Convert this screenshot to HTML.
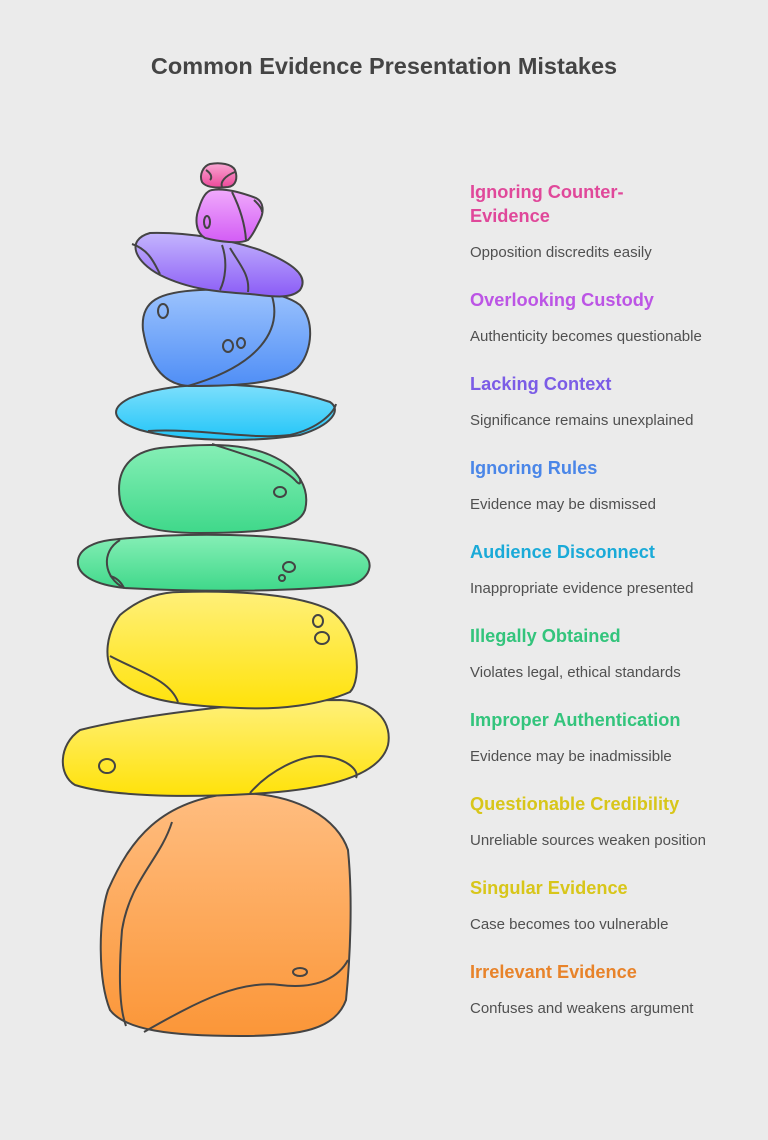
<!DOCTYPE html>
<html><head><meta charset="utf-8"><style>
body{margin:0;background:#ebebeb;}
svg{display:block}
.t{font-family:"Liberation Sans",sans-serif;font-weight:bold;font-size:18.2px}
.d{font-family:"Liberation Sans",sans-serif;font-size:15px;fill:#505050}
</style></head><body>
<svg width="768" height="1140" viewBox="0 0 768 1140" xmlns="http://www.w3.org/2000/svg">
<defs>
<linearGradient id="g1" x1="0" y1="0" x2="0" y2="1"><stop offset="0" stop-color="#f9a8d4"/><stop offset="1" stop-color="#ec4899"/></linearGradient>
<linearGradient id="g2" x1="0" y1="0" x2="0" y2="1"><stop offset="0" stop-color="#f0abfc"/><stop offset="1" stop-color="#d35cf5"/></linearGradient>
<linearGradient id="g3" x1="0" y1="0" x2="0" y2="1"><stop offset="0" stop-color="#c4b5fd"/><stop offset="1" stop-color="#8b5cf6"/></linearGradient>
<linearGradient id="g4" x1="0" y1="0" x2="0" y2="1"><stop offset="0" stop-color="#9cc3fd"/><stop offset="1" stop-color="#4f8ef6"/></linearGradient>
<linearGradient id="g5" x1="0" y1="0" x2="0" y2="1"><stop offset="0" stop-color="#7ddffc"/><stop offset="1" stop-color="#22c5f8"/></linearGradient>
<linearGradient id="g6" x1="0" y1="0" x2="0" y2="1"><stop offset="0" stop-color="#86efb6"/><stop offset="1" stop-color="#3fd88a"/></linearGradient>
<linearGradient id="g8" x1="0" y1="0" x2="0" y2="1"><stop offset="0" stop-color="#fff07a"/><stop offset="1" stop-color="#ffe20a"/></linearGradient>
<linearGradient id="g10" x1="0" y1="0" x2="0" y2="1"><stop offset="0" stop-color="#ffbd80"/><stop offset="1" stop-color="#fb9638"/></linearGradient>
</defs>
<text x="384" y="74" text-anchor="middle" font-family="Liberation Sans,sans-serif" font-weight="bold" font-size="23.5" fill="#444">Common Evidence Presentation Mistakes</text>
<g stroke="#444" stroke-width="2" fill="none">
<path d="M235 793 C300 793 338 820 348 850 C353 900 350 960 346 1000 C335 1030 300 1036 240 1036 C170 1036 125 1030 110 1010 C98 980 98 920 108 890 C130 840 160 800 235 793Z" fill="url(#g10)"/>
<path d="M172 822 C160 860 130 880 122 930 C118 980 120 1010 126 1026"/>
<path d="M144 1032 C200 1000 240 980 280 985 C320 990 340 975 348 960"/>
<ellipse cx="300" cy="972" rx="7" ry="4"/>
<path d="M80 730 C140 715 260 700 340 700 C380 702 392 725 388 745 C380 775 330 790 250 794 C180 798 110 796 75 785 C58 775 58 745 80 730Z" fill="url(#g8)"/>
<path d="M250 793 C270 770 300 756 320 756 C345 757 360 770 356 778"/>
<ellipse cx="107" cy="766" rx="8" ry="7"/>
<path d="M180 592 C240 590 300 595 330 610 C360 630 362 680 350 692 C320 705 280 710 240 708 C180 706 140 700 118 680 C100 660 108 630 120 615 C140 598 160 592 180 592Z" fill="url(#g8)"/>
<path d="M110 656 C140 672 170 680 178 702"/>
<ellipse cx="318" cy="621" rx="5" ry="6"/><ellipse cx="322" cy="638" rx="7" ry="6"/>
<path d="M110 540 C180 532 280 532 350 548 C380 555 372 580 350 585 C290 592 200 592 125 588 C95 585 76 575 78 560 C80 548 95 542 110 540Z" fill="url(#g6)"/>
<path d="M120 540 C100 552 104 578 124 588"/>
<path d="M110 576 C118 578 122 584 124 588"/>
<ellipse cx="289" cy="567" rx="6" ry="5"/><ellipse cx="282" cy="578" rx="3" ry="3"/>
<path d="M160 448 C200 444 240 442 270 455 C300 468 310 490 305 510 C298 530 260 533 200 533 C150 533 125 525 120 500 C115 470 130 452 160 448Z" fill="url(#g6)"/>
<path d="M212 444 C250 456 280 465 295 480 C302 488 300 480 300 478"/>
<ellipse cx="280" cy="492" rx="6" ry="5"/>
<path d="M200 385 C260 383 300 392 330 402 C342 410 332 425 300 435 C250 443 180 441 140 430 C110 420 110 408 130 398 C150 390 175 386 200 385Z" fill="url(#g5)"/>
<path d="M148 431 C200 428 250 440 290 435 C320 428 334 412 336 404"/>
<path d="M200 290 C240 288 280 290 300 305 C315 320 312 350 300 365 C285 385 230 386 190 386 C160 385 148 360 143 330 C140 300 160 292 200 290Z" fill="url(#g4)"/>
<path d="M272 296 C282 330 260 365 188 386"/>
<ellipse cx="163" cy="311" rx="5" ry="7"/><ellipse cx="228" cy="346" rx="5" ry="6"/><ellipse cx="241" cy="343" rx="4" ry="5"/>
<path d="M150 233 C190 232 230 240 260 250 C290 262 310 275 300 290 C290 300 270 296 250 294 C220 292 190 290 160 275 C135 262 125 240 150 233Z" fill="url(#g3)"/>
<path d="M132 244 C150 250 155 265 160 274"/>
<path d="M222 245 C228 262 225 280 220 290"/>
<path d="M230 248 C240 265 250 275 248 292"/>
<path d="M212 190 C225 188 240 192 256 198 C264 202 264 212 260 220 C255 230 252 236 248 240 C240 244 220 242 205 238 C195 232 195 218 199 208 C202 198 206 191 212 190Z" fill="url(#g2)"/>
<path d="M232 192 C240 208 245 225 246 240"/>
<path d="M254 200 C258 204 262 208 262 212"/>
<ellipse cx="207" cy="222" rx="3" ry="6"/>
<path d="M210 164 C220 162 232 164 235 170 C238 178 236 186 228 187 C218 188 206 188 202 182 C199 175 203 166 210 164Z" fill="url(#g1)"/>
<path d="M206 170 C212 174 212 178 210 180 M235 172 C225 176 220 182 222 187"/>
</g>
<g>
<text class="t" x="470" y="198" fill="#e0489a">Ignoring Counter-</text>
<text class="t" x="470" y="222" fill="#e0489a">Evidence</text>
<text class="d" x="470" y="257">Opposition discredits easily</text>
<text class="t" x="470" y="306" fill="#bc55e5">Overlooking Custody</text>
<text class="d" x="470" y="341">Authenticity becomes questionable</text>
<text class="t" x="470" y="390" fill="#7b5ce6">Lacking Context</text>
<text class="d" x="470" y="425">Significance remains unexplained</text>
<text class="t" x="470" y="474" fill="#4a86e8">Ignoring Rules</text>
<text class="d" x="470" y="509">Evidence may be dismissed</text>
<text class="t" x="470" y="558" fill="#1aaad8">Audience Disconnect</text>
<text class="d" x="470" y="593">Inappropriate evidence presented</text>
<text class="t" x="470" y="642" fill="#33c47c">Illegally Obtained</text>
<text class="d" x="470" y="677">Violates legal, ethical standards</text>
<text class="t" x="470" y="726" fill="#33c47c">Improper Authentication</text>
<text class="d" x="470" y="761">Evidence may be inadmissible</text>
<text class="t" x="470" y="810" fill="#d8c61a">Questionable Credibility</text>
<text class="d" x="470" y="845">Unreliable sources weaken position</text>
<text class="t" x="470" y="894" fill="#d8c61a">Singular Evidence</text>
<text class="d" x="470" y="929">Case becomes too vulnerable</text>
<text class="t" x="470" y="978" fill="#e8832a">Irrelevant Evidence</text>
<text class="d" x="470" y="1013">Confuses and weakens argument</text>
</g>
</svg>
</body></html>
